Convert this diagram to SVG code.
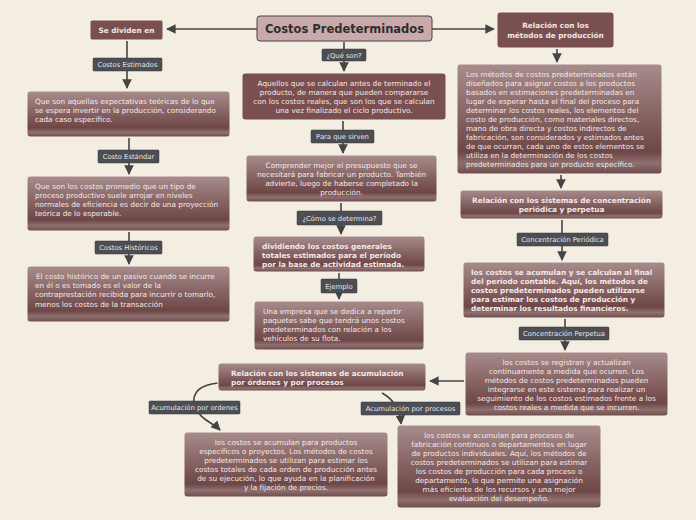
<svg xmlns="http://www.w3.org/2000/svg" width="696" height="520" viewBox="0 0 696 520">
<defs>
<linearGradient id="g" x1="0" y1="0" x2="0" y2="1">
<stop offset="0" stop-color="#a88c8c"/><stop offset="0.8" stop-color="#6e4646"/><stop offset="0.9" stop-color="#8e7070"/><stop offset="1" stop-color="#6e4a4a"/>
</linearGradient>
<marker id="a" viewBox="0 0 10 10" refX="9" refY="5" markerWidth="6" markerHeight="6" orient="auto"><path d="M0 0L10 5L0 10z" fill="#444"/></marker>
</defs>
<style>
.b{fill:url(#g);stroke:#f5efe8;stroke-width:1}
.s{fill:#7a4f4f;stroke:#f5efe8}
.t{font-family:"DejaVu Sans",sans-serif;font-size:7.3px;fill:#f2e8e8}
.bd{font-weight:bold}
.c{text-anchor:middle}
.l{fill:#4c4e54;stroke:#3a3a3a;stroke-width:0.5}
.lt{font-family:"DejaVu Sans",sans-serif;font-size:6.8px;fill:#e6e6e6;text-anchor:middle}
.e{stroke:#444;stroke-width:1.6;fill:none}
</style>
<rect width="696" height="520" fill="#f3ede2"/>
<g id="connectors">
<path class="e" d="M257 29H167" marker-end="url(#a)"/>
<path class="e" d="M432 29H494" marker-end="url(#a)"/>
<path class="e" d="M127 41V88" marker-end="url(#a)"/>
<path class="e" d="M129 138V174" marker-end="url(#a)"/>
<path class="e" d="M129 232V264" marker-end="url(#a)"/>
<path class="e" d="M344 42V71" marker-end="url(#a)"/>
<path class="e" d="M343 121V153" marker-end="url(#a)"/>
<path class="e" d="M341 203V234" marker-end="url(#a)"/>
<path class="e" d="M339 273V299" marker-end="url(#a)"/>
<path class="e" d="M557 49V62" marker-end="url(#a)"/>
<path class="e" d="M561 175V188" marker-end="url(#a)"/>
<path class="e" d="M562 220V260" marker-end="url(#a)"/>
<path class="e" d="M565 319V350" marker-end="url(#a)"/>
<path class="e" d="M464 381H430" marker-end="url(#a)"/>
<path class="e" d="M218 383C200 385 192 392 194 405C200 420 212 422 220 430" marker-end="url(#a)"/>
<path class="e" d="M382 393C395 400 400 412 401 424" marker-end="url(#a)"/>
</g>
<g id="labels">
<rect class="l" x="93" y="58" width="69" height="13" rx="1"/><text class="lt" x="127.5" y="67">Costos Estimados</text>
<rect class="l" x="98" y="150" width="61" height="13" rx="1"/><text class="lt" x="128.5" y="159">Costo Estándar</text>
<rect class="l" x="95" y="241" width="67" height="13" rx="1"/><text class="lt" x="128.5" y="250">Costos Históricos</text>
<rect class="l" x="322" y="49" width="44" height="12" rx="1"/><text class="lt" x="344" y="58">¿Qué son?</text>
<rect class="l" x="311" y="130" width="63" height="13" rx="1"/><text class="lt" x="342.5" y="139">Para que sirven</text>
<rect class="l" x="297" y="211" width="85" height="14" rx="1"/><text class="lt" x="339.5" y="221">¿Cómo se determina?</text>
<rect class="l" x="321" y="279" width="36" height="14" rx="1"/><text class="lt" x="339" y="289">Ejemplo</text>
<rect class="l" x="517" y="233" width="91" height="13" rx="1"/><text class="lt" x="562.5" y="242">Concentración Periódica</text>
<rect class="l" x="519" y="327" width="90" height="13" rx="1"/><text class="lt" x="564" y="336">Concentración Perpetua</text>
<rect class="l" x="149" y="401" width="91" height="13" rx="1"/><text class="lt" x="194.5" y="410">Acumulación por ordenes</text>
<rect class="l" x="361" y="402" width="99" height="13" rx="1"/><text class="lt" x="410.5" y="411">Acumulación por procesos</text>
</g>
<g id="n-title"><rect x="257" y="16" width="175" height="25" rx="3" fill="#c9a9a9" stroke="#444"/><text x="344.5" y="33" class="c" font-family="DejaVu Sans,sans-serif" font-size="11.5" font-weight="bold" fill="#2e2e2e">Costos Predeterminados</text></g>
<g id="n-dividen"><rect class="s" x="90" y="20" width="73" height="20" rx="2"/><text class="t bd c" x="126.5" y="33">Se dividen en</text></g>
<g id="n-relmet"><rect class="s" x="497" y="12" width="117" height="36" rx="3"/><text class="t bd c" x="555.5" y="28">Relación con los</text><text class="t bd c" x="555.5" y="38">métodos de producción</text></g>
<g id="n-est"><rect class="b" x="27" y="91" width="203" height="46" rx="3"/><text class="t" x="35"><tspan x="35" y="104">Que son aquellas expectativas teóricas de lo que</tspan><tspan x="35" y="113">se espera invertir en la producción, considerando</tspan><tspan x="35" y="122">cada caso específico.</tspan></text></g>
<g id="n-std"><rect class="b" x="27" y="176" width="203" height="55" rx="3"/><text class="t"><tspan x="35" y="189">Que son los costos promedio que un tipo de</tspan><tspan x="35" y="198">proceso productivo suele arrojar en niveles</tspan><tspan x="35" y="207">normales de eficiencia es decir de una proyección</tspan><tspan x="35" y="216">teórica de lo esperable.</tspan></text></g>
<g id="n-hist"><rect class="b" x="27" y="266" width="203" height="56" rx="3"/><text class="t"><tspan x="36" y="279">El costo histórico de un pasivo cuando se incurre</tspan><tspan x="35" y="288">en él o es tomado es el valor de la</tspan><tspan x="35" y="297">contraprestación recibida para incurrir o tomarlo,</tspan><tspan x="35" y="307">menos los costos de la transacción</tspan></text></g>
<g id="n-que"><rect x="242" y="73" width="204" height="47" rx="3" fill="#7a4f4f" stroke="#f5efe8"/><text class="t c"><tspan x="344" y="86">Aquellos que se calculan antes de terminado el</tspan><tspan x="344" y="95">producto, de manera que pueden compararse</tspan><tspan x="344" y="104">con los costos reales, que son los que se calculan</tspan><tspan x="344" y="113">una vez finalizado el ciclo productivo.</tspan></text></g>
<g id="n-sirv"><rect class="b" x="246" y="155" width="191" height="47" rx="3"/><text class="t c"><tspan x="341.5" y="168">Comprender mejor el presupuesto que se</tspan><tspan x="341.5" y="177">necesitará para fabricar un producto. También</tspan><tspan x="341.5" y="186">advierte, luego de haberse completado la</tspan><tspan x="341.5" y="195">producción.</tspan></text></g>
<g id="n-det"><rect class="b" x="253" y="236" width="172" height="36" rx="3"/><text class="t bd"><tspan x="262" y="249">dividiendo los costos generales</tspan><tspan x="262" y="258">totales estimados para el período</tspan><tspan x="262" y="267">por la base de actividad estimada.</tspan></text></g>
<g id="n-ej"><rect class="b" x="254" y="301" width="170" height="49" rx="3"/><text class="t"><tspan x="263" y="314">Una empresa que se dedica a repartir</tspan><tspan x="263" y="323">paquetes sabe que tendrá unos costos</tspan><tspan x="263" y="332">predeterminados con relación a los</tspan><tspan x="263" y="341">vehículos de su flota.</tspan></text></g>
<g id="n-met"><rect class="b" x="457" y="64" width="205" height="110" rx="3"/><text class="t"><tspan x="466" y="77">Los métodos de costos predeterminados están</tspan><tspan x="466" y="86">diseñados para asignar costos a los productos</tspan><tspan x="466" y="95">basados en estimaciones predeterminadas en</tspan><tspan x="466" y="104">lugar de esperar hasta el final del proceso para</tspan><tspan x="466" y="113">determinar los costos reales, los elementos del</tspan><tspan x="466" y="122">costo de producción, como materiales directos,</tspan><tspan x="466" y="131">mano de obra directa y costos indirectos de</tspan><tspan x="466" y="140">fabricación, son considerados y estimados antes</tspan><tspan x="466" y="149">de que ocurran, cada uno de estos elementos se</tspan><tspan x="466" y="158">utiliza en la determinación de los costos</tspan><tspan x="466" y="167">predeterminados para un producto específico.</tspan></text></g>
<g id="n-conc"><rect class="b" x="460" y="190" width="203" height="29" rx="3"/><text class="t bd c"><tspan x="561.5" y="203">Relación con los sistemas de concentración</tspan><tspan x="561.5" y="212">periódica y perpetua</tspan></text></g>
<g id="n-per"><rect class="b" x="463" y="262" width="202" height="56" rx="3"/><text class="t bd"><tspan x="471" y="275">los costos se acumulan y se calculan al final</tspan><tspan x="471" y="284">del período contable. Aquí, los métodos de</tspan><tspan x="471" y="293">costos predeterminados pueden utilizarse</tspan><tspan x="471" y="302">para estimar los costos de producción y</tspan><tspan x="471" y="311">determinar los resultados financieros.</tspan></text></g>
<g id="n-perp"><rect class="b" x="465" y="352" width="203" height="64" rx="3"/><text class="t c"><tspan x="566.5" y="365">los costos se registran y actualizan</tspan><tspan x="566.5" y="374">continuamente a medida que ocurren. Los</tspan><tspan x="566.5" y="383">métodos de costos predeterminados pueden</tspan><tspan x="566.5" y="392">integrarse en este sistema para realizar un</tspan><tspan x="566.5" y="401">seguimiento de los costos estimados frente a los</tspan><tspan x="566.5" y="410">costos reales a medida que se incurren.</tspan></text></g>
<g id="n-acum"><rect class="b" x="218" y="363" width="208" height="28" rx="3"/><text class="t bd"><tspan x="231" y="376">Relación con los sistemas de acumulación</tspan><tspan x="231" y="385">por órdenes y por procesos</tspan></text></g>
<g id="n-ord"><rect class="b" x="184" y="432" width="204" height="65" rx="3"/><text class="t c"><tspan x="286" y="445">los costos se acumulan para productos</tspan><tspan x="286" y="454">específicos o proyectos. Los métodos de costos</tspan><tspan x="286" y="463">predeterminados se utilizan para estimar los</tspan><tspan x="286" y="472">costos totales de cada orden de producción antes</tspan><tspan x="286" y="481">de su ejecución, lo que ayuda en la planificación</tspan><tspan x="286" y="490">y la fijación de precios.</tspan></text></g>
<g id="n-proc"><rect class="b" x="397" y="425" width="204" height="83" rx="3"/><text class="t c"><tspan x="499" y="438">los costos se acumulan para procesos de</tspan><tspan x="499" y="447">fabricación continuos o departamentos en lugar</tspan><tspan x="499" y="456">de productos individuales. Aquí, los métodos de</tspan><tspan x="499" y="465">costos predeterminados se utilizan para estimar</tspan><tspan x="499" y="474">los costos de producción para cada proceso o</tspan><tspan x="499" y="483">departamento, lo que permite una asignación</tspan><tspan x="499" y="492">más eficiente de los recursos y una mejor</tspan><tspan x="499" y="501">evaluación del desempeño.</tspan></text></g>
</svg>
